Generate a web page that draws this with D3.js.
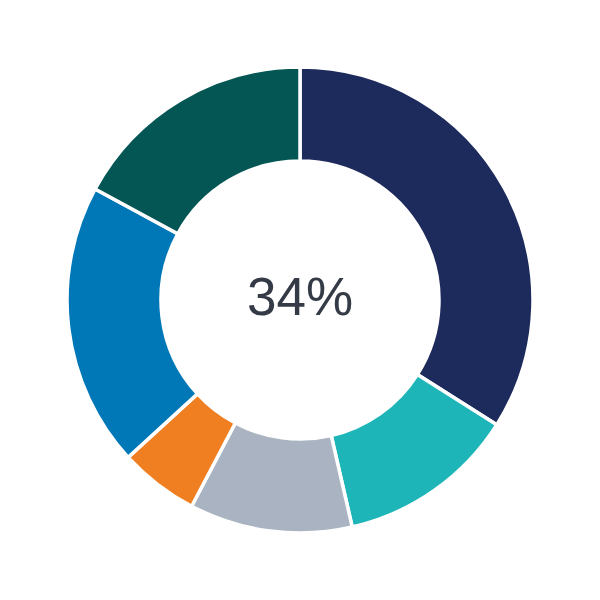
<!DOCTYPE html>
<html>
    <head>
        <meta charset="utf-8">
        <title>Donut</title>
        <script src="https://d3js.org/d3.v7.min.js"></script>
        <style>
            body { margin: 0; background: #fff; }
        </style>
    </head>
    <body>
        <script>
            // Slice data (clockwise from top)
            const categories = ["A", "B", "C", "D", "E", "F"];
            const values = [34, 12.4, 11.3, 5.5, 19.7, 17.1];
            const colors = ["#1d2b5c", "#1db5b8", "#a9b3c2", "#f07f22", "#0077b6", "#035654"];
            const centerLabel = "34%";

            const svgWidth = 600;
            const svgHeight = 600;
            const outerR = 233;
            const innerR = 139;

            const svg = d3.select("body")
                .append("svg")
                    .attr("width", svgWidth)
                    .attr("height", svgHeight);

            const g = svg.append("g")
                .attr("transform", `translate(${svgWidth / 2},${svgHeight / 2})`);

            const pie = d3.pie()
                .sort(null)
                .value(d => d.v);

            const arc = d3.arc()
                .innerRadius(innerR)
                .outerRadius(outerR);

            const slices = categories.map((c, i) => ({ c: c, v: values[i], color: colors[i] }));

            g.selectAll("path")
                .data(pie(slices))
                .join("path")
                    .attr("d", arc)
                    .attr("fill", d => d.data.color)
                    .attr("stroke", "#fff")
                    .attr("stroke-width", 3.5)
                    .attr("stroke-linejoin", "miter");

            // Center label
            g.append("text")
                .attr("text-anchor", "middle")
                .attr("y", 15)
                .attr("font-family", "Liberation Sans, Arial, sans-serif")
                .attr("font-size", 53)
                .attr("fill", "#343b46")
                .text(centerLabel);
        </script>
    </body>
</html>
